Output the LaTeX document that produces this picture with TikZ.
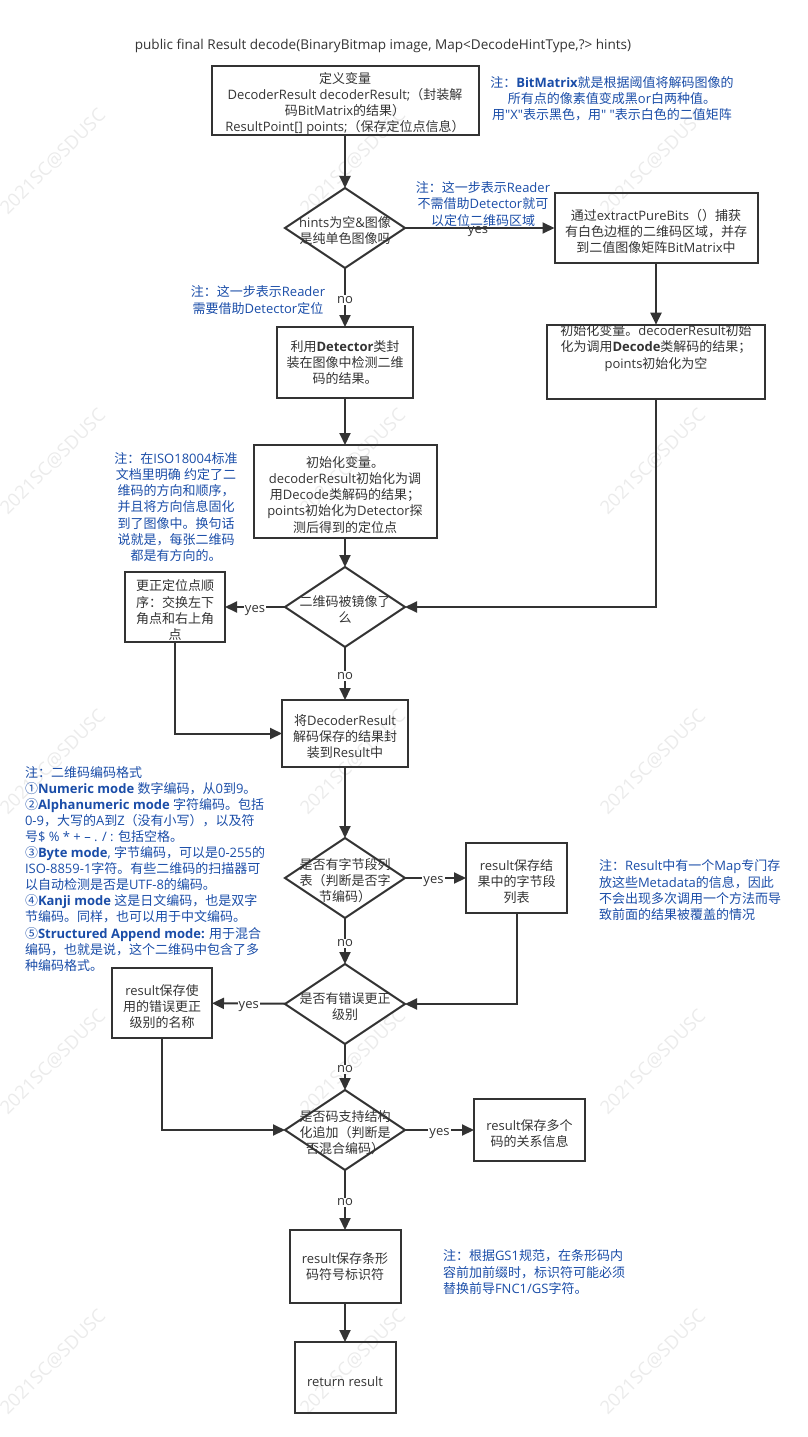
\documentclass[tikz,border=0pt]{standalone}
\usepackage{fontspec}
\usetikzlibrary{arrows.meta,shapes.geometric}
\setmainfont{Open Sans}
\newfontfamily\latf{Open Sans}
\newfontfamily\cjkf{Noto Sans CJK SC}
\XeTeXinterchartokenstate=1
\newcount\cc
\newcommand{\setcjk}[2]{\cc=#1\relax\loop\XeTeXcharclass\cc=1\relax\ifnum\cc<#2\advance\cc by 1\repeat}
\setcjk{"2460}{"2473}
\setcjk{"3000}{"303F}
\setcjk{"4E00}{"9FFF}
\setcjk{"FF00}{"FFEF}
\XeTeXinterchartoks 0 1 = {\cjkf}
\XeTeXinterchartoks 1 0 = {\latf}
\XeTeXinterchartoks 4095 1 = {\cjkf}
\XeTeXinterchartoks 4095 0 = {\latf}
\XeTeXinterchartoks 1 4095 = {\latf}
\definecolor{ink}{HTML}{333333}
\definecolor{noteblue}{HTML}{1A4DA8}
\definecolor{wm}{HTML}{EBEBEB}
\newcommand{\dtext}[1]{\smash{\makebox[0pt]{\raisebox{-7pt}{\begin{tabular}{@{}c@{}}#1\end{tabular}}}}}
\newcommand{\lift}{\rule{0pt}{17.5pt}}
\tikzset{
  txt/.style={font=\fontsize{13}{16.2}\selectfont,text=ink,inner sep=0pt,outer sep=0pt},
  flowbox/.style={txt,draw=ink,line width=2pt,align=center},
  decision/.style={txt,draw=ink,line width=2pt,diamond,aspect=1.5,minimum width=120pt,minimum height=80pt},
  flow/.style={draw=ink,line width=2pt,-{Triangle[length=12pt,width=11pt]}},
  flowlabel/.style={txt,fill=white,inner sep=1pt},
  vlabel/.style={flowlabel,yshift=-2.5pt},
  hlabel/.style={flowlabel,yshift=-3.5pt},
  note/.style={font=\fontsize{13}{16.1}\selectfont,text=noteblue,inner sep=0pt,outer sep=0pt},
  watermark/.style={font=\fontsize{18.5}{18.5}\selectfont,text=wm,rotate=45}
}
\begin{document}
\begin{tikzpicture}[x=1pt,y=-1pt]
\useasboundingbox (0,0) rectangle (807,1437);
\foreach \wx in {53,353,653}{\foreach \wy in {162,462,762,1062,1362}{
  \node[watermark] at (\wx,\wy) {2021SC@SDUSC};
}}
\node[txt,font=\fontsize{13.55}{16}\selectfont] (title) at (383,46) {public final Result decode(BinaryBitmap image, Map<DecodeHintType,?> hints)};
\node[flowbox,minimum width=267pt,minimum height=67pt] (b1) at (345,100.5) {\lift 定义变量\\DecoderResult decoderResult;（封装解\\码BitMatrix的结果）\\ResultPoint[] points;（保存定位点信息）};
\node[decision] (d1) at (345,228) {\dtext{hints为空\&图像\\是纯单色图像吗}};
\node[flowbox,minimum width=203pt,minimum height=70pt] (b2) at (656,228) {\lift 通过extractPureBits（）捕获\\有白色边框的二维码区域，并存\\到二值图像矩阵BitMatrix中};
\node[flowbox,minimum width=218pt,minimum height=70pt] (b3) at (656,362) {初始化变量。decoderResult初始\\化为调用\textbf{Decode}类解码的结果；\\points初始化为空\\[15pt]};
\node[flowbox,minimum width=136pt,minimum height=71pt] (b4) at (345,362.5) {利用\textbf{Detector}类封\\装在图像中检测二维\\码的结果。};
\node[flowbox,minimum width=183pt,minimum height=93pt] (b5) at (345,491.5) {\lift 初始化变量。\\decoderResult初始化为调\\用Decode类解码的结果；\\points初始化为Detector探\\测后得到的定位点};
\node[decision] (d2) at (345,607) {\dtext{二维码被镜像了\\么}};
\node[flowbox,minimum width=100pt,minimum height=70pt] (b6) at (175,607) {\lift 更正定位点顺\\序：交换左下\\角点和右上角\\点};
\node[flowbox,minimum width=126pt,minimum height=67pt] (b7) at (345,733.5) {\lift 将DecoderResult\\解码保存的结果封\\装到Result中};
\node[decision] (d3) at (345,878) {\dtext{是否有字节段列\\表（判断是否字\\节编码）}};
\node[flowbox,minimum width=101pt,minimum height=70pt] (b8) at (516.5,878) {\lift result保存结\\果中的字节段\\列表};
\node[decision] (d4) at (345,1004) {\dtext{是否有错误更正\\级别}};
\node[flowbox,minimum width=100pt,minimum height=70pt] (b9) at (162,1003) {\lift result保存使\\用的错误更正\\级别的名称};
\node[decision] (d5) at (345,1130) {\dtext{是否码支持结构\\化追加（判断是\\否混合编码）}};
\node[flowbox,minimum width=111pt,minimum height=62pt] (b10) at (529.5,1130) {\lift result保存多个\\码的关系信息};
\node[flowbox,minimum width=111pt,minimum height=73pt] (b11) at (345,1266.5) {result保存条形\\码符号标识符};
\node[flowbox,minimum width=101pt,minimum height=71pt] (b12) at (345,1377.5) {\lift return result};

\draw[flow] (b1) -- (d1);
\draw[flow] (d1) -- (b2);
\draw[flow] (b2) -- (b3);
\draw[flow] (d1) -- (b4) node[vlabel,midway] (l1) {no};
\draw[flow] (b4) -- (b5);
\draw[flow] (b5) -- (d2);
\draw[flow] (b3.south) |- (d2.east);
\draw[flow] (d2) -- (b6) node[hlabel,midway] (l2) {yes};
\draw[flow] (d2) -- (b7) node[vlabel,midway] (l3) {no};
\draw[flow] (b6.south) |- (b7.west);
\draw[flow] (b7) -- (d3);
\draw[flow] (d3) -- (b8) node[hlabel,midway,xshift=-2pt] (l4) {yes};
\draw[flow] (d3) -- (d4) node[vlabel,midway] (l5) {no};
\draw[flow] (b8.south) |- (d4.east);
\draw[flow] (d4) -- (b9) node[hlabel,midway] (l6) {yes};
\draw[flow] (d4) -- (d5) node[vlabel,midway] (l7) {no};
\draw[flow] (b9.south) |- (d5.west);
\draw[flow] (d5) -- (b10) node[hlabel,midway] (l8) {yes};
\draw[flow] (d5) -- (b11) node[vlabel,midway] (l9) {no};
\draw[flow] (b11) -- (b12);
\node[txt] (l0) at (478,232) {yes};

\node[note,align=center] (n1) at (612,99) {注：\textbf{BitMatrix}就是根据阈值将解码图像的\\所有点的像素值变成黑or白两种值。\\用"X"表示黑色，用" "表示白色的二值矩阵};
\node[note,align=center] (n2) at (483,204) {注：这一步表示Reader\\不需借助Detector就可\\以定位二维码区域};
\node[note,align=center] (n3) at (258,300) {注：这一步表示Reader\\需要借助Detector定位};
\node[note,align=center] (n4) at (176,507) {注：在ISO18004标准\\文档里明确 约定了二\\维码的方向和顺序，\\并且将方向信息固化\\到了图像中。换句话\\说就是，每张二维码\\都是有方向的。};
\node[note,align=left,anchor=north west] (n5) at (25,766) {注：二维码编码格式\\①\textbf{Numeric mode} 数字编码，从0到9。\\②\textbf{Alphanumeric mode} 字符编码。包括\\0-9，大写的A到Z（没有小写），以及符\\号\$ \% * + – . / : 包括空格。\\③\textbf{Byte mode}, 字节编码，可以是0-255的\\ISO-8859-1字符。有些二维码的扫描器可\\以自动检测是否是UTF-8的编码。\\④\textbf{Kanji mode} 这是日文编码，也是双字\\节编码。同样，也可以用于中文编码。\\⑤\textbf{Structured Append mode:} 用于混合\\编码，也就是说，这个二维码中包含了多\\种编码格式。};
\node[note,align=left,anchor=north west] (n6) at (599,860) {注：Result中有一个Map专门存\\放这些Metadata的信息，因此\\不会出现多次调用一个方法而导\\致前面的结果被覆盖的情况};
\node[note,align=left,anchor=north west] (n7) at (443,1250) {注：根据GS1规范，在条形码内\\容前加前缀时，标识符可能必须\\替换前导FNC1/GS字符。};
\end{tikzpicture}
\end{document}
